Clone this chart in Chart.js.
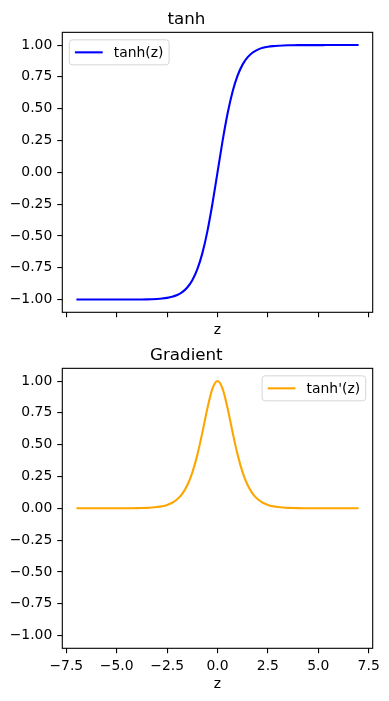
<!DOCTYPE html>
<html>
<head>
<meta charset="utf-8">
<script src="https://cdn.jsdelivr.net/npm/chart.js@4/dist/chart.umd.min.js"></script>
<style>
  html, body { margin: 0; padding: 0; background: #fff; }
  canvas { display: block; }
</style>
</head>
<body>
<canvas id="tanhChart" width="389" height="340"></canvas>
<canvas id="gradChart" width="389" height="361"></canvas>
<script>
// values
const zValues = [
  -7, -6.75, -6.5, -6.25, -6, -5.75, -5.5, -5.25, -5, -4.75, -4.5, -4.25, -4, -3.75,
  -3.5, -3.25, -3, -2.75, -2.5, -2.25, -2, -1.75, -1.5, -1.25, -1, -0.75, -0.5, -0.25,
  0,
  0.25, 0.5, 0.75, 1, 1.25, 1.5, 1.75, 2, 2.25, 2.5, 2.75, 3, 3.25, 3.5,
  3.75, 4, 4.25, 4.5, 4.75, 5, 5.25, 5.5, 5.75, 6, 6.25, 6.5, 6.75, 7
];
const tanhValues = [
  -1, -1, -1, -1, -1, -1, -1, -0.9999, -0.9999, -0.9999, -0.9998, -0.9996, -0.9993, -0.9989,
  -0.9982, -0.997, -0.9951, -0.9919, -0.9866, -0.978, -0.964, -0.9414, -0.9051, -0.8483, -0.7616, -0.6351, -0.4621, -0.2449,
  0,
  0.2449, 0.4621, 0.6351, 0.7616, 0.8483, 0.9051, 0.9414, 0.964, 0.978, 0.9866, 0.9919, 0.9951, 0.997, 0.9982,
  0.9989, 0.9993, 0.9996, 0.9998, 0.9999, 0.9999, 0.9999, 1, 1, 1, 1, 1, 1, 1
];
const gradValues = [
  0, 0, 0, 0, 0, 0, 0, 0.0001, 0.0002, 0.0003, 0.0005, 0.0008, 0.0013, 0.0022,
  0.0036, 0.006, 0.0099, 0.0161, 0.0266, 0.0435, 0.0707, 0.1138, 0.1807, 0.2804, 0.42, 0.5966, 0.7864, 0.94,
  1,
  0.94, 0.7864, 0.5966, 0.42, 0.2804, 0.1807, 0.1138, 0.0707, 0.0435, 0.0266, 0.0161, 0.0099, 0.006, 0.0036,
  0.0022, 0.0013, 0.0008, 0.0005, 0.0003, 0.0002, 0.0001, 0, 0, 0, 0, 0, 0, 0
];
const xTicks = [-7.5, -5, -2.5, 0, 2.5, 5, 7.5];
const yTicks = [-1, -0.75, -0.5, -0.25, 0, 0.25, 0.5, 0.75, 1];

Chart.defaults.font.family = "'DejaVu Sans', sans-serif";
Chart.defaults.font.size = 13.9;
Chart.defaults.color = '#000';

const fmt = (v, d) => (v < 0 ? '\u2212' : '') + Math.abs(v).toFixed(d);

// full box round the axes + matplotlib-like legend inside the plot
const frameAndLegend = {
  id: 'frameAndLegend',
  afterDraw(chart, args, opts) {
    const { ctx, chartArea: a } = chart;
    ctx.save();
    ctx.strokeStyle = '#000';
    ctx.lineWidth = 1.1;
    ctx.strokeRect(a.left, a.top, a.right - a.left, a.bottom - a.top);

    const ds = chart.data.datasets[0];
    ctx.font = "13.9px 'DejaVu Sans'";
    const tw = ctx.measureText(ds.label).width;
    const w = 5.6 + 27.8 + 11.1 + tw + 5.6;
    const h = 25;
    const x = opts.loc === 'right' ? a.right - 7 - w : a.left + 7;
    const y = a.top + 7.5;
    ctx.beginPath();
    ctx.roundRect(x, y, w, h, 3);
    ctx.fillStyle = 'rgba(255,255,255,0.8)';
    ctx.fill();
    ctx.strokeStyle = '#d6d6d6';
    ctx.lineWidth = 1;
    ctx.stroke();

    ctx.beginPath();
    ctx.moveTo(x + 5.6, y + h / 2);
    ctx.lineTo(x + 5.6 + 27.8, y + h / 2);
    ctx.strokeStyle = ds.borderColor;
    ctx.lineWidth = 2.1;
    ctx.stroke();

    ctx.fillStyle = '#000';
    ctx.textBaseline = 'middle';
    ctx.fillText(ds.label, x + 5.6 + 27.8 + 11.1, y + h / 2 + 1);
    ctx.restore();
  }
};

function makeChart(id, cfg) {
  return new Chart(document.getElementById(id), {
    type: 'line',
    data: {
      datasets: [{
        label: cfg.label,
        data: zValues.map((z, i) => ({ x: z, y: cfg.values[i] })),
        borderColor: cfg.color,
        borderWidth: 2.1,
        pointRadius: 0,
        fill: false,
        cubicInterpolationMode: 'monotone'
      }]
    },
    options: {
      responsive: false,
      animation: false,
      layout: { padding: { left: 0, right: 16.3, top: 0, bottom: 0 } },
      plugins: {
        title: {
          display: true,
          text: cfg.title,
          color: '#000',
          font: { size: 16.7, weight: 'normal' },
          padding: cfg.titlePad
        },
        legend: { display: false },
        tooltip: { enabled: false },
        frameAndLegend: { loc: cfg.loc }
      },
      scales: {
        x: {
          type: 'linear',
          min: -7.7,
          max: 7.7,
          afterBuildTicks: (s) => { s.ticks = xTicks.map((v) => ({ value: v })); },
          afterFit: (s) => { s.height = cfg.xHeight; },
          ticks: {
            autoSkip: false,
            maxRotation: 0,
            padding: 5,
            callback: (v) => (cfg.xLabels ? fmt(v, 1) : '')
          },
          grid: { drawOnChartArea: false, tickLength: 5, color: '#000', lineWidth: 1.1 },
          border: { display: false },
          title: { display: true, text: 'z', padding: { top: 0, bottom: cfg.zPad } }
        },
        y: {
          min: -1.1,
          max: 1.1,
          afterBuildTicks: (s) => { s.ticks = yTicks.map((v) => ({ value: v })); },
          afterFit: (s) => { s.width = 62.3; },
          ticks: { autoSkip: false, padding: 5, callback: (v) => fmt(v, 2) },
          grid: { drawOnChartArea: false, tickLength: 5, color: '#000', lineWidth: 1.1 },
          border: { display: false }
        }
      }
    },
    plugins: [frameAndLegend]
  });
}

makeChart('tanhChart', {
  title: 'tanh', label: 'tanh(z)', values: tanhValues, color: 'blue', loc: 'left',
  titlePad: { top: 9.5, bottom: 2.8 }, xHeight: 27.7, zPad: 1.65, xLabels: false
});
makeChart('gradChart', {
  title: 'Gradient', label: "tanh'(z)", values: gradValues, color: 'orange', loc: 'right',
  titlePad: { top: 6, bottom: 2.3 }, xHeight: 52.7, zPad: 8.65, xLabels: true
});
</script>
</body>
</html>
